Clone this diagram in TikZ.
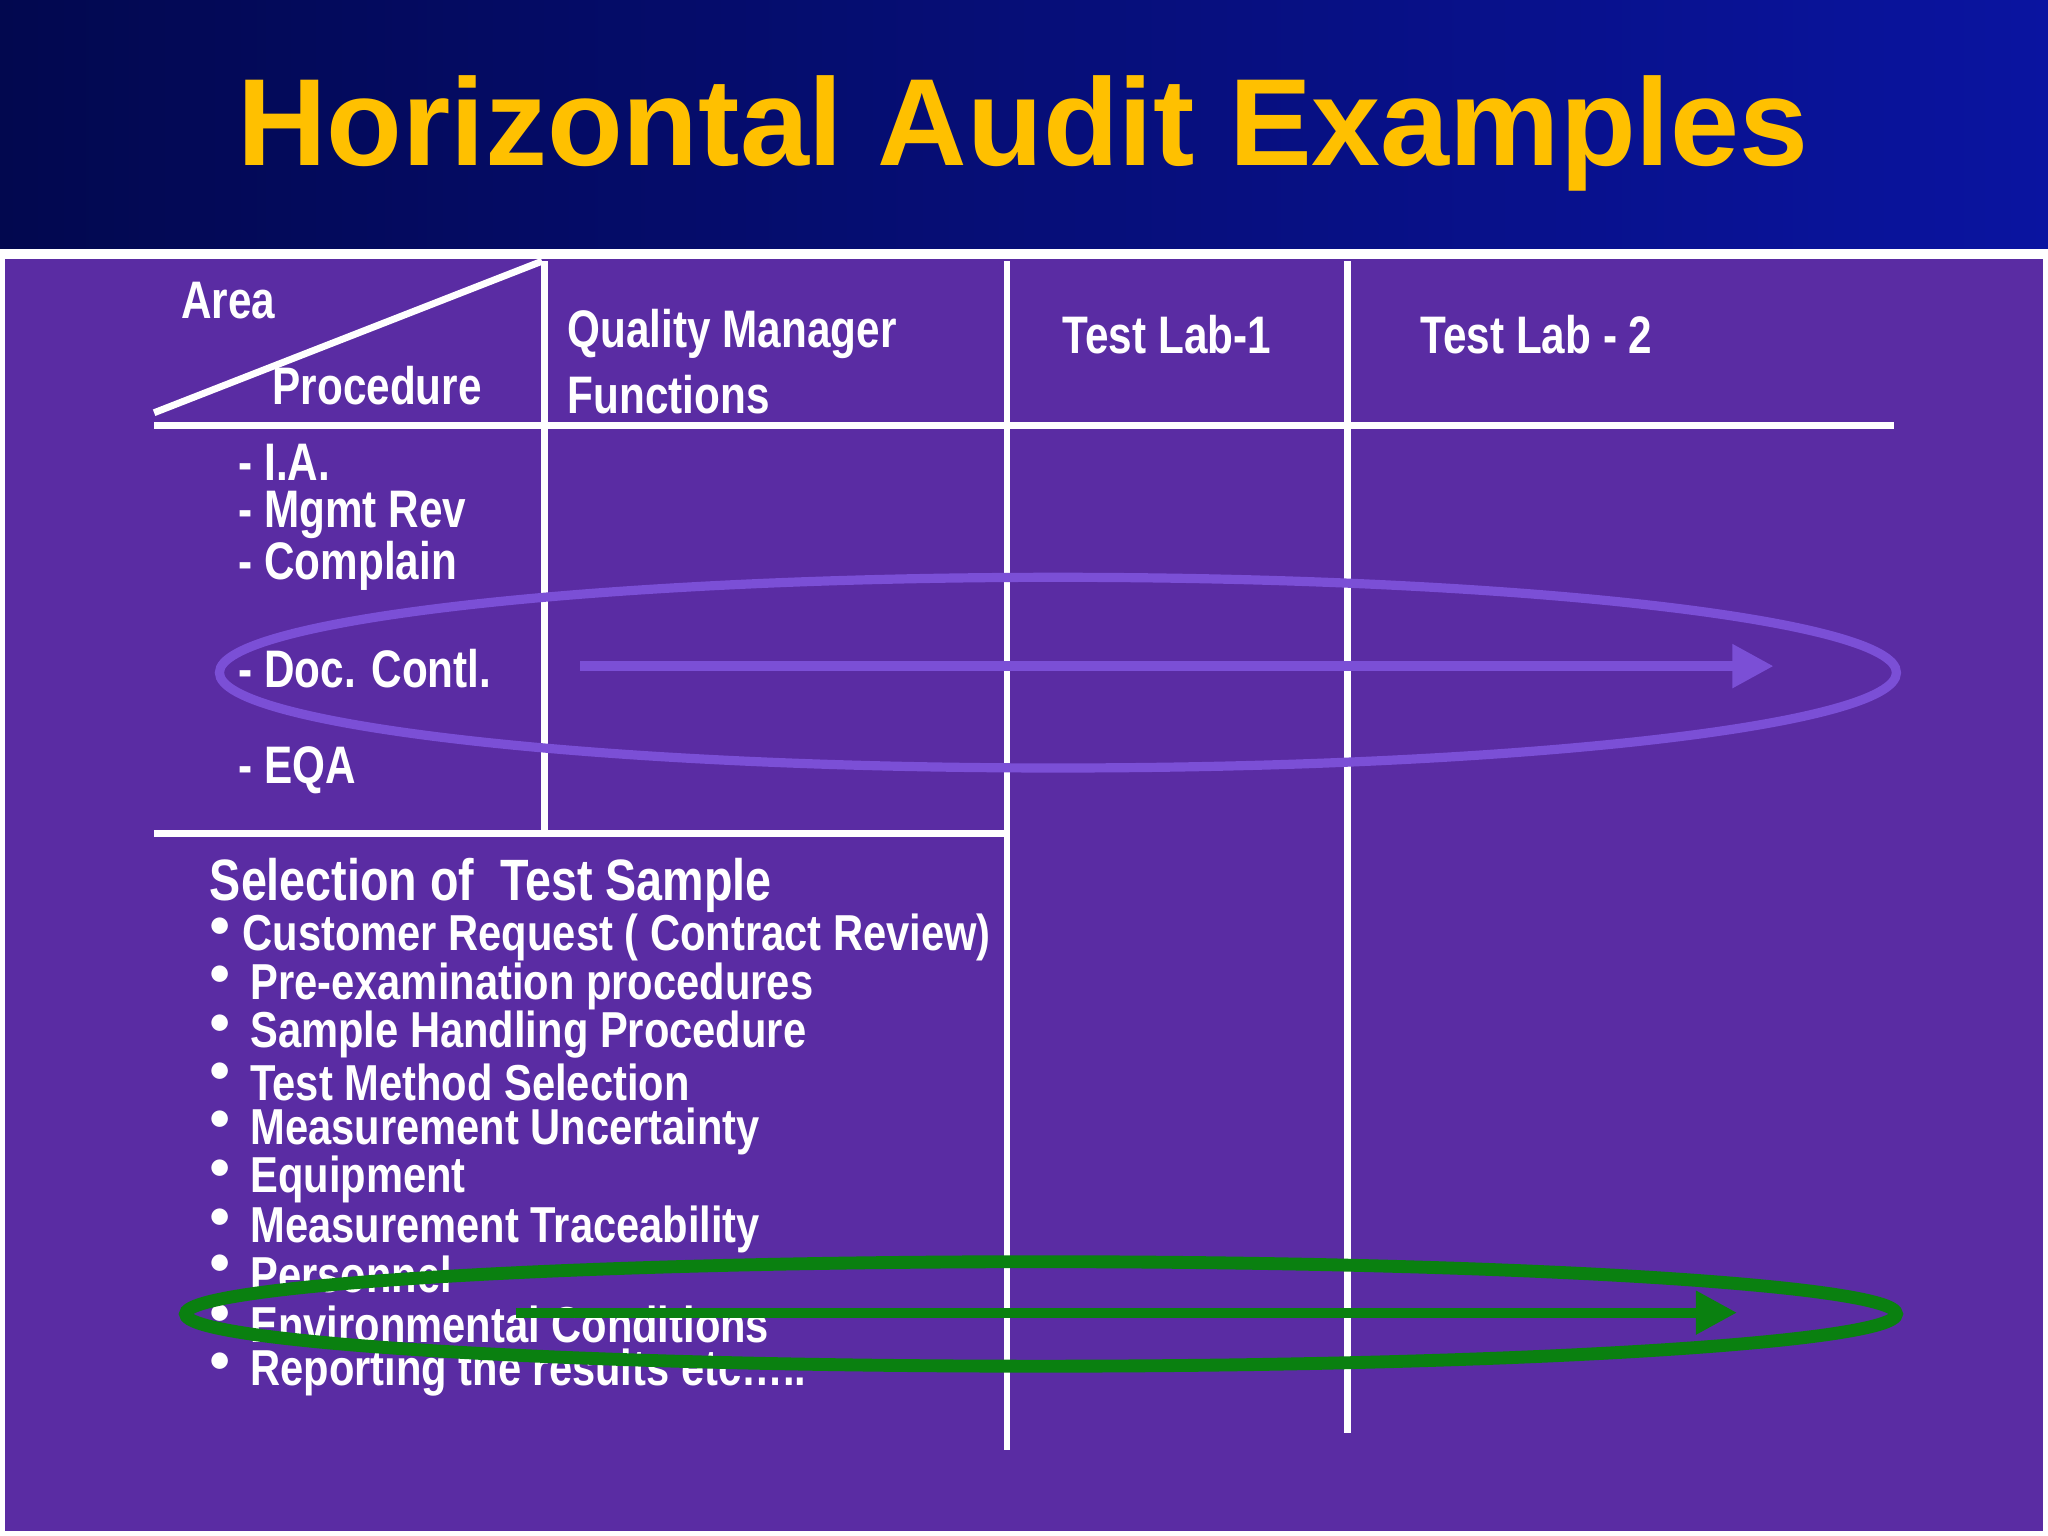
\documentclass[tikz,border=0pt]{standalone}
\usepackage{fontspec}
\setmainfont{Liberation Sans}
\usetikzlibrary{arrows.meta}
\definecolor{panel}{HTML}{5A2CA3}
\definecolor{navy}{HTML}{02084F}
\definecolor{navyb}{HTML}{0A14A0}
\definecolor{ttl}{HTML}{FFC000}
\definecolor{lav}{HTML}{7B4FD6}
\definecolor{grn}{HTML}{0A8010}
\newcommand{\nar}[1]{\scalebox{0.8}[1]{#1}}
\newcommand{\narb}[1]{\scalebox{0.825}[1]{#1}}
\tikzset{
 grid/.style={white,line width=1.5pt},
 lbl/.style={anchor=west,text=white,font=\bfseries\fontsize{11.5}{13}\selectfont,inner sep=0pt},
 itm/.style={anchor=west,text=white,font=\bfseries\fontsize{11}{13}\selectfont,inner sep=0pt},
 blt/.style={anchor=west,text=white,font=\bfseries\fontsize{9}{10}\selectfont,inner sep=0pt}
}
\begin{document}
\begin{tikzpicture}[x=0.01cm,y=-0.01cm]
\useasboundingbox (0,0) rectangle (1568,1176);
\fill[white] (0,0) rectangle (1568,1176);
\shade[left color=navy,right color=navyb] (0,0) rectangle (1568,190);
\fill[panel] (4,198) rectangle (1564,1172);
\node[text=ttl,font=\bfseries\fontsize{27}{30}\selectfont] (title) at (783,102) {Horizontal Audit Examples};
% grid
\coordinate (d1) at (118,316); \coordinate (d2) at (415,200);
\draw[grid] (d1) -- (d2);
\coordinate (v1a) at (417,200); \coordinate (v1b) at (417,638);
\coordinate (v2a) at (771,200); \coordinate (v2b) at (771,1110);
\coordinate (v3a) at (1032,200); \coordinate (v3b) at (1032,1097);
\coordinate (h1a) at (118,326); \coordinate (h1b) at (1450,326);
\coordinate (h2a) at (118,638); \coordinate (h2b) at (771,638);
\draw[grid] (v1a)--(v1b); \draw[grid] (v2a)--(v2b); \draw[grid] (v3a)--(v3b);
\draw[grid] (h1a)--(h1b); \draw[grid] (h2a)--(h2b);
% headers
\node[lbl] (area) at (138,230) {\nar{Area}};
\node[lbl] (proc) at (208,295) {\nar{Procedure}};
\node[lbl] (qm1) at (434,256) {\nar{Quality Manager}};
\node[lbl] (qm2) at (434,302) {\nar{Functions}};
\node[lbl] (tl1) at (813,256) {\nar{Test Lab-1}};
\node[lbl] (tl2) at (1087,256) {\nar{Test Lab - 2}};
% list
\node[lbl] (ia) at (182,354) {\nar{- I.A.}};
\node[lbl] (mr) at (182,394) {\nar{- Mgmt Rev}};
\node[lbl] (cp) at (182,433) {\nar{- Complain}};
\node[lbl] (dc) at (182,512) {\nar{- Doc. Contl.}};
\node[lbl] (eqa) at (182,590) {\nar{- EQA}};
\node[lbl,font=\bfseries\fontsize{12.7}{15}\selectfont] (sel) at (160,678) {\nar{Selection of\ \ Test Sample}};
\foreach \y/\t/\xx [count=\i] in {718/Customer Request ( Contract Review)/185,755/Pre-examination procedures/191,792/Sample Handling Procedure/191,829/Test Method Selection/191,866/Measurement Uncertainty/191,903/Equipment/191,941/Measurement Traceability/191,976/Personnel/191,1014/Environmental Conditions/191,1051/Reporting the results etc\dots../191}{
 \node[blt] (b\i) at (160,\y-8) {$\bullet$};
 \node[itm] (t\i) at (\xx,\y) {\narb{\t}};
}
% ellipses and arrows
\draw[lav,line width=2pt] (810,515) ellipse [x radius=642,y radius=73];
\coordinate (a1) at (444,510); \coordinate (a2) at (1358,510);
\draw[lav,line width=2.2pt,-{Triangle[length=9pt,width=9pt]}] (a1) -- (a2);
\draw[grn,line width=2.8pt] (797,1006) ellipse [x radius=655,y radius=40];
\coordinate (g1) at (395,1005); \coordinate (g2) at (1330,1005);
\draw[grn,line width=2.2pt,-{Triangle[length=9pt,width=9pt]}] (g1) -- (g2);
\end{tikzpicture}
\end{document}
